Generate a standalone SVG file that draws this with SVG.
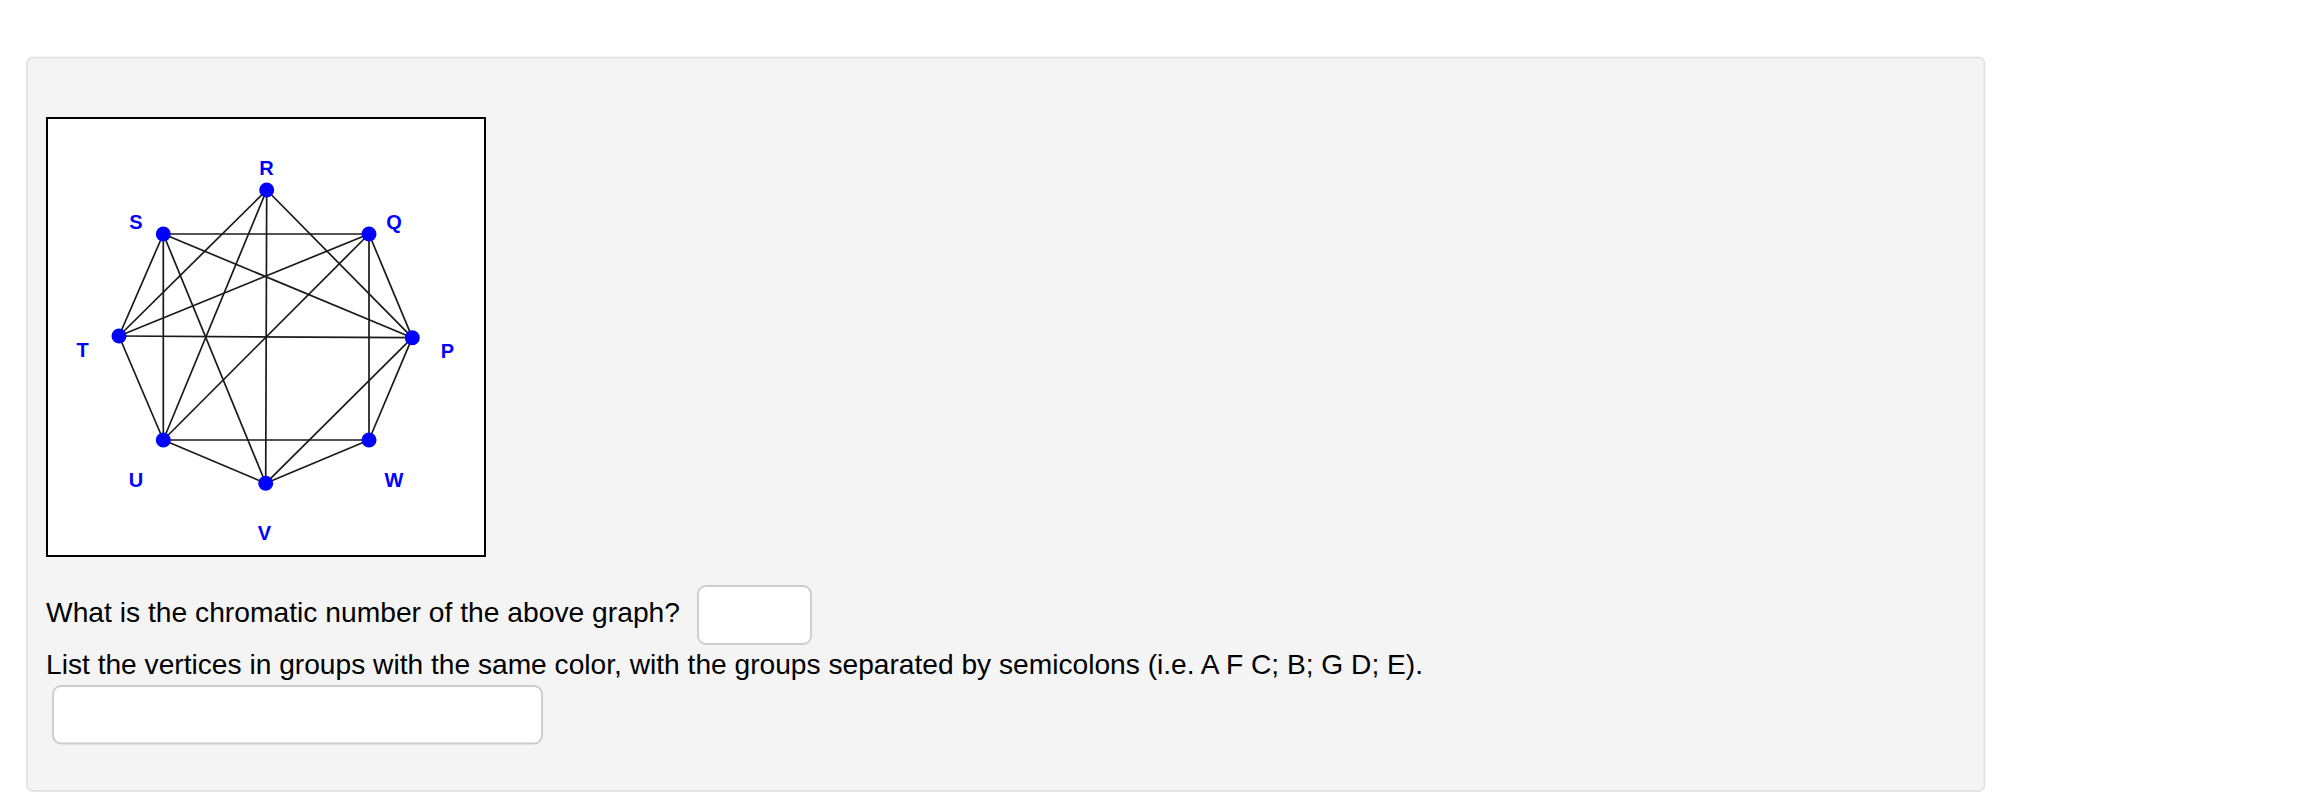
<svg xmlns="http://www.w3.org/2000/svg" width="2309" height="802" viewBox="0 0 2309 802">
  <style>
    .panel { fill: #f4f4f4; stroke: #dedede; stroke-width: 1.5; }
    .gbox { fill: #ffffff; stroke: #000000; stroke-width: 2; }
    .edge { stroke: #1a1a1a; stroke-width: 1.7; fill: none; }
    .dot { fill: #0000ff; }
    .lbl { font-family: "Liberation Sans", Arial, sans-serif; font-weight: bold; font-size: 20px; fill: #0000ff; text-anchor: middle; }
    .q { font-family: "Liberation Sans", Arial, Helvetica, sans-serif; font-size: 28px; fill: #000000; }
    .inp { fill: #ffffff; stroke: #cccccc; stroke-width: 1.8; }
  </style>
  <rect x="0" y="0" width="2309" height="802" fill="#ffffff"/>
  <rect class="panel" x="27" y="57.5" width="1957.5" height="733.5" rx="6"/>
  <rect class="gbox" x="47" y="118" width="438" height="438"/>

  <g id="connectors">
    <line class="edge" x1="266.7" y1="190" x2="119" y2="336"/>
    <line class="edge" x1="266.7" y1="190" x2="163.3" y2="440"/>
    <line class="edge" x1="266.7" y1="190" x2="265.7" y2="483.3"/>
    <line class="edge" x1="266.7" y1="190" x2="412.3" y2="337.7"/>
    <line class="edge" x1="163.3" y1="234" x2="369" y2="234"/>
    <line class="edge" x1="163.3" y1="234" x2="119" y2="336"/>
    <line class="edge" x1="163.3" y1="234" x2="163.3" y2="440"/>
    <line class="edge" x1="163.3" y1="234" x2="412.3" y2="337.7"/>
    <line class="edge" x1="163.3" y1="234" x2="265.7" y2="483.3"/>
    <line class="edge" x1="369" y1="234" x2="119" y2="336"/>
    <line class="edge" x1="369" y1="234" x2="163.3" y2="440"/>
    <line class="edge" x1="369" y1="234" x2="369" y2="440"/>
    <line class="edge" x1="369" y1="234" x2="412.3" y2="337.7"/>
    <line class="edge" x1="119" y1="336" x2="412.3" y2="337.7"/>
    <line class="edge" x1="119" y1="336" x2="163.3" y2="440"/>
    <line class="edge" x1="412.3" y1="337.7" x2="369" y2="440"/>
    <line class="edge" x1="412.3" y1="337.7" x2="265.7" y2="483.3"/>
    <line class="edge" x1="163.3" y1="440" x2="369" y2="440"/>
    <line class="edge" x1="163.3" y1="440" x2="265.7" y2="483.3"/>
    <line class="edge" x1="369" y1="440" x2="265.7" y2="483.3"/>
  </g>

  <g id="node-R"><circle class="dot" cx="266.7" cy="190" r="7.5"/><text class="lbl" x="266.5" y="175">R</text></g>
  <g id="node-S"><circle class="dot" cx="163.3" cy="234" r="7.5"/><text class="lbl" x="136" y="229">S</text></g>
  <g id="node-Q"><circle class="dot" cx="369" cy="234" r="7.5"/><text class="lbl" x="394" y="229">Q</text></g>
  <g id="node-T"><circle class="dot" cx="119" cy="336" r="7.5"/><text class="lbl" x="82.5" y="356.5">T</text></g>
  <g id="node-P"><circle class="dot" cx="412.3" cy="337.7" r="7.5"/><text class="lbl" x="447.3" y="358">P</text></g>
  <g id="node-U"><circle class="dot" cx="163.3" cy="440" r="7.5"/><text class="lbl" x="136" y="486.5">U</text></g>
  <g id="node-W"><circle class="dot" cx="369" cy="440" r="7.5"/><text class="lbl" x="394" y="486.5">W</text></g>
  <g id="node-V"><circle class="dot" cx="265.7" cy="483.3" r="7.5"/><text class="lbl" x="264.5" y="540">V</text></g>

  <g id="question">
    <text class="q" x="46" y="621.5" textLength="634" lengthAdjust="spacingAndGlyphs">What is the chromatic number of the above graph?</text>
    <rect class="inp" x="698" y="586" width="113" height="58" rx="8"/>
    <text class="q" x="46" y="674.3" textLength="1377" lengthAdjust="spacingAndGlyphs">List the vertices in groups with the same color, with the groups separated by semicolons (i.e. A F C; B; G D; E).</text>
    <rect class="inp" x="53" y="686" width="489" height="57.5" rx="8"/>
  </g>
</svg>
